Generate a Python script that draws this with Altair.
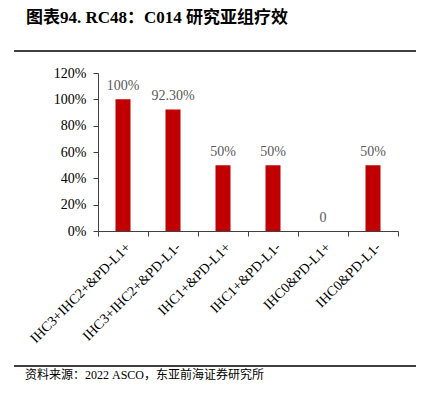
import altair as alt
import pandas as pd

categories = ["IHC3+IHC2+&PD-L1+", "IHC3+IHC2+&PD-L1-", "IHC1+&PD-L1+",
              "IHC1+&PD-L1-", "IHC0&PD-L1+", "IHC0&PD-L1-"]
values = [1.00, 0.923, 0.50, 0.50, 0.0, 0.50]
value_labels = ["100%", "92.30%", "50%", "50%", "0", "50%"]
title_text = "图表94. RC48：C014 研究亚组疗效"
source_text = "资料来源：2022 ASCO，东亚前海证券研究所"
y_ticks = [0, 0.2, 0.4, 0.6, 0.8, 1.0, 1.2]

df = pd.DataFrame({"cat": categories, "val": values, "lbl": value_labels})

SERIF = "Liberation Serif, Noto Sans CJK SC"

x_enc = alt.X("cat:N", sort=categories, title=None,
              scale=alt.Scale(paddingInner=0, paddingOuter=0),
              axis=alt.Axis(labelAngle=-45, labelFontSize=14, labelFont=SERIF,
                            labelColor="#000000", domainColor="#404040",
                            tickColor="#404040", tickSize=5, tickBand="extent",
                            labelPadding=4, labelOverlap=False))
y_enc = alt.Y("val:Q", title=None,
              scale=alt.Scale(domain=[0, 1.2], nice=False),
              axis=alt.Axis(values=y_ticks, format=".0%", labelFontSize=14,
                            labelFont=SERIF, labelColor="#000000", grid=False,
                            domainColor="#404040", tickColor="#404040", tickSize=5,
                            labelPadding=7, labelOverlap=False))

bars = alt.Chart(df).mark_bar(size=15, color="#C00000").encode(x=x_enc, y=y_enc)

labels = alt.Chart(df).mark_text(baseline="bottom", dy=-6, fontSize=14,
                                 font=SERIF, color="#595959").encode(
    x=x_enc, y=y_enc, text="lbl:N")

deco = pd.DataFrame({"t": [title_text]})
title = alt.Chart(deco).mark_text(align="left", baseline="middle", fontSize=17,
                                  fontWeight="bold", font=SERIF, color="#000000").encode(
    x=alt.value(-72), y=alt.value(-55), text="t:N")

src = alt.Chart(pd.DataFrame({"t": [source_text]})).mark_text(
    align="left", baseline="middle", fontSize=12, font=SERIF, color="#000000").encode(
    x=alt.value(-73), y=alt.value(302), text="t:N")

line_top = alt.Chart(deco).mark_rule(color="#000000", strokeWidth=1.5).encode(
    x=alt.value(-84), x2=alt.value(318), y=alt.value(-22))
line_bot = alt.Chart(deco).mark_rule(color="#000000", strokeWidth=1.5).encode(
    x=alt.value(-84), x2=alt.value(318), y=alt.value(293))

chart = alt.layer(bars, labels, title, src, line_top, line_bot).properties(
    width=300, height=158,
    padding={"left": 90, "top": 65, "right": 24, "bottom": 160},
    autosize=alt.AutoSizeParams(type="none"),
).configure_view(stroke=None)

chart.save("out.html", embed_options={"renderer": "svg", "actions": False})
